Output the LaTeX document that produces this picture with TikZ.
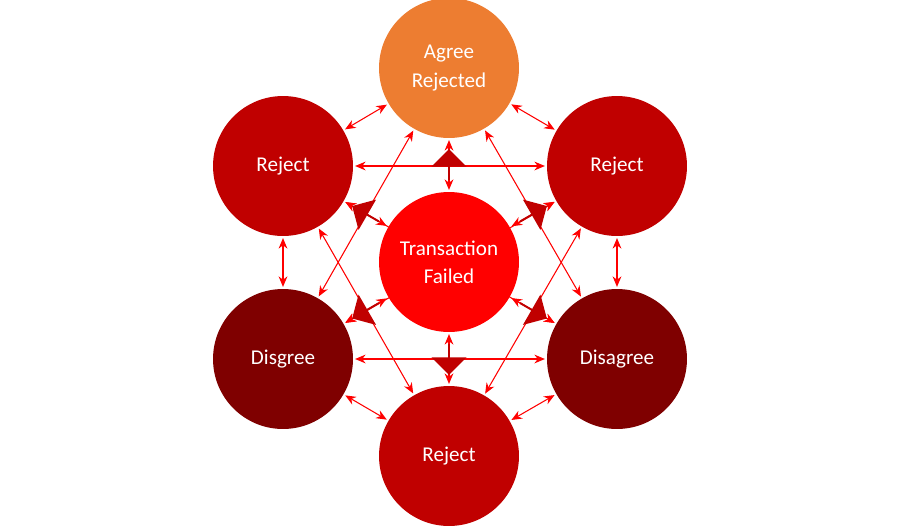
\documentclass[tikz,border=0pt]{standalone}
\usepackage{fontspec}
\setmainfont{Carlito}
\usetikzlibrary{shapes.arrows,arrows.meta,calc}

\definecolor{agree}{HTML}{ED7D31}
\definecolor{reject}{HTML}{C00000}
\definecolor{disagree}{HTML}{7F0000}
\definecolor{failed}{HTML}{FF0000}

\tikzset{
    state/.style={circle, minimum size=2.8cm, inner sep=0pt, text=white, align=center, font=\large},
    link/.style={draw=red, line width=0.6pt, {Stealth[length=6pt,width=5pt]}-{Stealth[length=6pt,width=5pt]}, shorten <=1pt, shorten >=1pt},
    push/.style={single arrow, fill=reject, minimum height=0.62cm, minimum width=0.7cm, single arrow head extend=0.12cm, inner sep=0pt, anchor=center}
}

\begin{document}
\begin{tikzpicture}[x=0.02cm, y=-0.02cm]
    \useasboundingbox (0,0) rectangle (900,525);

    % outer states
    \node [state, fill=agree] (agr) at (449,68) {Agree\\[2pt]Rejected};
    \node [state, fill=reject] (rul) at (283,166) {Reject};
    \node [state, fill=reject] (rur) at (617,166) {Reject};
    \node [state, fill=disagree] (dl) at (283,359) {Disgree};
    \node [state, fill=disagree] (dr) at (617,359) {Disagree};
    \node [state, fill=reject] (rb) at (449,456) {Reject};

    % links between the outer states
    \foreach \a/\b in {agr/rul, agr/rur, rul/dl, rur/dr, dl/rb, dr/rb,
                       rul/rur, dl/dr, agr/dl, agr/dr, rul/rb, rur/rb,
                       rul/dr, rur/dl}
        \draw [link] (\a) -- (\b);

    % centre
    \node [state, fill=failed] (tf) at (449,262) {Transaction\\[2pt]Failed};
    \foreach \b in {agr, rul, rur, dl, dr, rb}
        \draw [link] (tf) -- (\b);

    % block arrows
    \foreach \b/\ang in {agr/90, rul/150, rur/30, dl/210, dr/330, rb/270}
        \node [push, rotate=\ang] (p\b) at ($(tf)!0.5!(\b)$) {};
\end{tikzpicture}
\end{document}
